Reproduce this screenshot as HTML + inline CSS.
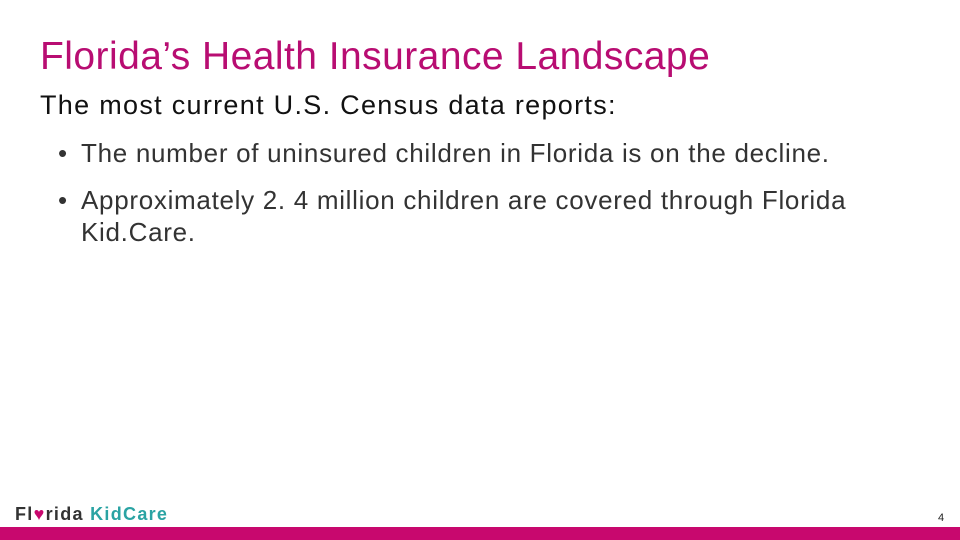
<!DOCTYPE html>
<html><head><meta charset="utf-8"><style>
body{margin:0;width:960px;height:540px;background:#fff;position:relative;overflow:hidden;font-family:"Liberation Sans",Arial,sans-serif}
.t{position:absolute;left:40px;top:35px;font-size:39px;letter-spacing:0.45px;color:#b80d72;white-space:nowrap}
.s{position:absolute;left:40px;top:90px;font-size:27px;letter-spacing:1.3px;color:#111;white-space:nowrap}
.b{position:absolute;left:58px;font-size:26px;letter-spacing:0.7px;color:#333;line-height:32px;white-space:nowrap}
.b span{position:absolute;left:0}
.b div{margin-left:23px}
.logo{position:absolute;left:15px;top:504px;font-size:18px;font-weight:bold;letter-spacing:1.3px;white-space:nowrap}
.bar{position:absolute;left:0;top:527px;width:960px;height:13px;background:#c8086e}
.pg{position:absolute;left:938px;top:512px;font-size:11px;color:#222}
</style></head><body>
<div class="t">Florida’s Health Insurance Landscape</div>
<div class="s">The most current U.S. Census data reports:</div>
<div class="b" style="top:137px"><span>•</span><div>The number of uninsured children in Florida is on the decline.</div></div>
<div class="b" style="top:184px"><span>•</span><div>Approximately 2. 4 million children are covered through Florida<br>Kid.Care.</div></div>
<div class="logo"><span style="color:#333">Fl</span><span style="color:#c8086e">♥</span><span style="color:#333">rida </span><span style="color:#2aa3a3">KidCare</span></div>
<div class="pg">4</div>
<div class="bar"></div>
</body></html>
